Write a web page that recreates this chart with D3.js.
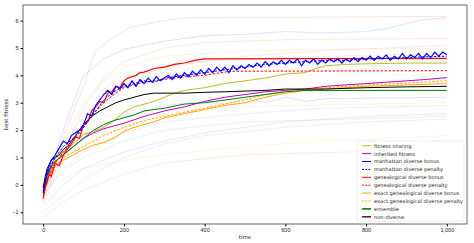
<!DOCTYPE html>
<html>
<head>
<meta charset="utf-8">
<script src="https://cdn.jsdelivr.net/npm/d3@7"></script>
<style>
  body { margin: 0; background: #fff; }
  svg { font-family: "DejaVu Sans", sans-serif; }
</style>
</head>
<body>
<div class="graph"></div>
<script>
// main series: [time, best fitness]
const fitnessSharing = [[0,-0.2],[10,0.4],[25,0.9],[50,1.2],[75,1.5],[100,1.85],[125,1.95],[150,2.1],[175,2.35],[200,2.65],[225,2.85],[250,2.95],[275,3.05],[300,3.2],[325,3.35],[350,3.45],[375,3.5],[400,3.55],[450,3.7],[500,3.8],[550,3.9],[600,4.05],[650,4.1],[675,4.25],[700,4.35],[750,4.4],[800,4.42],[900,4.45],[1000,4.45]];
const inheritedFitness = [[0,-0.2],[10,0.3],[25,0.8],[50,1.1],[75,1.4],[100,1.7],[125,1.9],[150,2.05],[175,2.15],[200,2.25],[250,2.5],[300,2.7],[350,2.85],[400,3.05],[450,3.2],[500,3.3],[550,3.4],[600,3.45],[650,3.5],[700,3.6],[750,3.65],[800,3.7],[850,3.75],[900,3.8],[950,3.85],[1000,3.92]];
const manhattanBonus = [[0,-0.3],[10,0.5],[20,0.9],[30,1.1],[40,1.35],[50,1.6],[60,1.5],[70,1.8],[80,1.9],[90,2.0],[100,2.2],[110,2.6],[120,2.5],[130,2.9],[140,3.1],[150,3.3],[160,3.45],[170,3.3],[180,3.6],[190,3.5],[200,3.7],[210,3.55],[220,3.8],[230,3.6],[240,3.85],[250,3.7],[260,3.9],[270,3.75],[280,3.95],[290,3.8],[300,3.9],[310,4.0],[320,3.85],[330,4.05],[340,3.9],[350,4.1],[360,3.95],[370,4.15],[380,4.0],[390,4.2],[400,4.05],[410,4.25],[420,4.1],[430,4.3],[440,4.15],[450,4.3],[460,4.1],[470,4.35],[480,4.2],[490,4.35],[500,4.25],[510,4.4],[520,4.3],[530,4.45],[540,4.3],[550,4.5],[560,4.35],[570,4.5],[580,4.4],[590,4.55],[600,4.4],[610,4.55],[620,4.45],[630,4.6],[640,4.35],[650,4.55],[660,4.45],[670,4.6],[680,4.4],[690,4.55],[700,4.45],[710,4.6],[720,4.5],[730,4.6],[740,4.45],[750,4.6],[760,4.5],[770,4.65],[780,4.5],[790,4.65],[800,4.55],[810,4.7],[820,4.55],[830,4.7],[840,4.6],[850,4.75],[860,4.55],[870,4.7],[880,4.6],[890,4.8],[900,4.6],[910,4.75],[920,4.65],[930,4.8],[940,4.6],[950,4.8],[960,4.65],[970,4.85],[980,4.7],[990,4.85],[1000,4.75]];
const manhattanPenalty = [[0,-0.2],[15,0.6],[30,1.0],[50,1.4],[75,1.7],[100,2.1],[125,2.6],[150,3.1],[175,3.4],[200,3.6],[225,3.7],[250,3.8],[275,3.75],[300,3.9],[350,4.0],[400,4.1],[450,4.2],[500,4.3],[550,4.4],[600,4.45],[650,4.5],[700,4.55],[750,4.55],[800,4.6],[850,4.62],[900,4.65],[950,4.68],[1000,4.7]];
const genealogicalBonus = [[0,-0.5],[5,-0.1],[10,0.1],[15,0.4],[20,0.3],[30,0.8],[40,0.7],[50,1.1],[60,1.3],[70,1.5],[80,1.75],[90,1.7],[100,2.2],[110,2.3],[120,2.7],[130,2.85],[140,3.05],[150,3.0],[160,3.35],[170,3.4],[180,3.6],[190,3.55],[200,3.8],[210,3.9],[220,3.95],[230,4.0],[240,4.1],[250,4.12],[275,4.25],[300,4.3],[325,4.4],[350,4.45],[375,4.55],[400,4.6],[1000,4.62]];
const genealogicalPenalty = [[0,-0.4],[10,0.2],[25,0.7],[50,1.2],[75,1.6],[100,2.1],[125,2.6],[150,3.0],[175,3.3],[200,3.55],[225,3.65],[250,3.75],[300,3.85],[350,3.95],[400,4.0],[450,4.12],[475,4.15],[1000,4.17]];
const exactBonus = [[0,-0.3],[10,0.2],[25,0.6],[50,0.9],[75,1.1],[100,1.3],[125,1.45],[150,1.55],[175,1.7],[200,1.95],[225,2.1],[250,2.2],[275,2.3],[300,2.45],[350,2.6],[400,2.75],[450,2.9],[500,3.0],[550,3.2],[600,3.35],[650,3.45],[700,3.5],[750,3.55],[800,3.6],[900,3.65],[1000,3.7]];
const exactPenalty = [[0,-0.2],[10,0.3],[25,0.6],[50,1.0],[100,1.4],[150,1.8],[200,2.1],[250,2.35],[300,2.5],[350,2.65],[400,2.8],[450,2.95],[500,3.1],[550,3.3],[600,3.4],[700,3.55],[800,3.65],[900,3.72],[1000,3.8]];
const ensemble = [[0,-0.1],[10,0.4],[25,0.8],[50,1.1],[75,1.4],[100,1.7],[125,2.0],[150,2.2],[175,2.35],[200,2.45],[225,2.55],[250,2.7],[275,2.75],[300,2.8],[350,2.95],[400,3.0],[450,3.1],[500,3.2],[550,3.3],[600,3.4],[650,3.45],[1000,3.45]];
const nonDiverse = [[0,-0.1],[5,0.3],[10,0.6],[20,0.9],[30,1.0],[40,1.1],[50,1.3],[60,1.4],[70,1.6],[80,1.8],[90,2.0],[100,2.2],[120,2.5],[140,2.7],[160,2.85],[180,3.0],[200,3.1],[225,3.2],[250,3.3],[275,3.35],[350,3.35],[400,3.38],[450,3.4],[550,3.45],[600,3.5],[700,3.5],[800,3.55],[900,3.58],[1000,3.6]];

// faint individual runs
const runRedTop = [[0,-0.5],[50,1.8],[100,3.6],[130,4.9],[175,5.4],[215,5.75],[300,6.0],[350,6.1],[1000,6.15]];
const runBlueTop = [[0,-0.3],[50,2.0],[100,4.0],[150,4.6],[200,4.95],[300,5.25],[400,5.45],[500,5.5],[600,5.6],[700,5.55],[800,5.6],[850,5.7],[900,5.9],[950,6.05],[1000,6.1]];
const runRedHigh = [[0,-0.6],[50,1.2],[100,2.8],[150,3.9],[200,4.5],[300,5.0],[400,5.2],[600,5.3],[1000,5.35]];
const runOrangeHigh = [[0,-0.5],[50,1.5],[100,3.0],[150,3.8],[200,4.3],[300,4.7],[500,4.9],[1000,5.0]];
const runGrayHigh = [[0,-0.2],[50,1.3],[100,2.6],[150,3.5],[200,4.0],[300,4.4],[500,4.6],[700,4.7],[1000,4.8]];
const runRedMid = [[0,-0.7],[50,0.9],[100,2.2],[150,3.2],[200,3.8],[300,4.3],[500,4.7],[700,4.9],[1000,5.1]];
const runBlueMid = [[0,-0.2],[50,1.0],[100,1.8],[200,2.5],[300,2.9],[400,3.05],[450,2.95],[500,3.15],[550,3.0],[600,3.2],[650,3.05],[700,3.15],[1000,3.2]];
const runOliveMid = [[0,-0.3],[50,0.8],[100,1.5],[200,2.2],[300,2.6],[400,2.8],[600,2.9],[1000,3.0]];
const runPurpleMid = [[0,-0.4],[50,0.6],[100,1.2],[200,1.9],[300,2.3],[500,2.6],[700,2.8],[1000,2.9]];
const runBlueLow = [[0,-0.8],[50,0.0],[100,0.6],[200,1.2],[300,1.6],[400,1.9],[600,2.3],[800,2.5],[1000,2.6]];
const runGreenLow = [[0,-0.3],[50,0.5],[100,1.0],[200,1.6],[300,2.0],[500,2.3],[1000,2.5]];
const runRedLow = [[0,-1.0],[50,-0.4],[100,0.2],[150,0.6],[200,1.0],[300,1.5],[400,1.8],[600,2.1],[800,2.3],[1000,2.4]];
const runOrangeLow = [[0,-0.6],[50,0.2],[100,0.6],[200,0.9],[300,1.1],[500,1.4],[700,1.6],[1000,1.8]];
const runRedBottom = [[0,-1.2],[50,-0.6],[100,-0.2],[200,0.4],[300,0.8],[500,1.1],[1000,1.3]];

const xTicks = [0, 200, 400, 600, 800, 1000];
const yTicks = [-1, 0, 1, 2, 3, 4, 5, 6];

const legendNames = ['fitness sharing', 'inherited fitness', 'manhattan diverse bonus', 'manhattan diverse penalty',
  'genealogical diverse bonus', 'genealogical diverse penalty', 'exact genealogical diverse bonus',
  'exact genealogical diverse penalty', 'ensemble', 'non-diverse'];

const w = 474;
const h = 243;
const padding = { top: 5, right: 7, bottom: 19, left: 23 };

const xScale = d3.scaleLinear().domain([-50, 1050]).range([padding.left, w - padding.right]);
const yScale = d3.scaleLinear().domain([-1.43, 6.57]).range([h - padding.bottom, padding.top]);

const svg = d3.select('.graph').append('svg').attr('width', w).attr('height', h);

svg.append('clipPath').attr('id', 'clip').append('rect')
  .attr('x', padding.left).attr('y', padding.top)
  .attr('width', w - padding.left - padding.right).attr('height', h - padding.top - padding.bottom);

const line = d3.line().x((d) => xScale(d[0])).y((d) => yScale(d[1]));

const plot = svg.append('g').attr('clip-path', 'url(#clip)');

const faint = [
  [runRedTop, 'rgba(255,0,0,0.12)'], [runBlueTop, 'rgba(0,0,255,0.12)'], [runRedHigh, 'rgba(255,0,0,0.1)'],
  [runOrangeHigh, 'rgba(255,165,0,0.14)'], [runGrayHigh, 'rgba(0,0,0,0.06)'], [runRedMid, 'rgba(255,0,0,0.09)'],
  [runBlueMid, 'rgba(0,0,255,0.12)'], [runOliveMid, 'rgba(188,189,34,0.14)'], [runPurpleMid, 'rgba(191,0,191,0.09)'],
  [runBlueLow, 'rgba(0,0,255,0.09)'], [runGreenLow, 'rgba(0,128,0,0.09)'], [runRedLow, 'rgba(255,0,0,0.09)'],
  [runOrangeLow, 'rgba(255,165,0,0.12)'], [runRedBottom, 'rgba(255,0,0,0.09)']
];
faint.forEach(([data, c]) => {
  plot.append('path').attr('d', line(data)).attr('fill', 'none').attr('stroke', c).attr('stroke-width', 1);
});

const main = [
  [fitnessSharing, '#bcbd22', null, 1],
  [inheritedFitness, '#bf00bf', null, 1],
  [exactBonus, 'orange', null, 1],
  [exactPenalty, 'orange', '2.5,1.5', 1],
  [ensemble, 'green', null, 1],
  [nonDiverse, 'black', null, 1],
  [genealogicalPenalty, 'red', '2.5,1.5', 1],
  [genealogicalBonus, 'red', null, 1.2],
  [manhattanPenalty, 'blue', '2.5,1.5', 1],
  [manhattanBonus, 'blue', null, 1.2]
];
main.forEach(([data, c, dash, sw]) => {
  plot.append('path').attr('d', line(data))
    .attr('fill', 'none').attr('stroke', c).attr('stroke-width', sw)
    .attr('stroke-dasharray', dash);
});

// frame
svg.append('rect')
  .attr('x', padding.left).attr('y', padding.top)
  .attr('width', w - padding.left - padding.right).attr('height', h - padding.top - padding.bottom)
  .attr('fill', 'none').attr('stroke', '#444').attr('stroke-width', 0.8);

svg.append('g')
  .attr('transform', `translate(0, ${h - padding.bottom})`)
  .call(d3.axisBottom(xScale).tickValues(xTicks).tickSize(2.5).tickPadding(2).tickSizeOuter(0))
  .call((g) => g.select('.domain').remove())
  .call((g) => g.selectAll('text').attr('font-size', 5.5).attr('fill', '#222'));

svg.append('g')
  .attr('transform', `translate(${padding.left}, 0)`)
  .call(d3.axisLeft(yScale).tickValues(yTicks).tickFormat((d) => d < 0 ? '\u2212' + Math.abs(d) : d).tickSize(2.5).tickPadding(2).tickSizeOuter(0))
  .call((g) => g.select('.domain').remove())
  .call((g) => g.selectAll('text').attr('font-size', 5.5).attr('fill', '#222'));

svg.append('text').attr('x', (padding.left + w - padding.right) / 2).attr('y', 239)
  .attr('text-anchor', 'middle').attr('font-size', 5.5).attr('fill', '#222').text('time');
svg.append('text').attr('transform', `translate(8, ${(padding.top + h - padding.bottom) / 2}) rotate(-90)`)
  .attr('text-anchor', 'middle').attr('font-size', 5.5).attr('fill', '#222').text('best fitness');

// legend
const legend = svg.append('g').attr('transform', 'translate(357, 141)');
legend.append('rect').attr('width', 107).attr('height', 80).attr('rx', 1.5)
  .attr('fill', 'rgba(255,255,255,0.85)').attr('stroke', '#ddd').attr('stroke-width', 0.6);
const legendStyle = [
  ['#bcbd22', null, 1], ['#bf00bf', null, 1], ['blue', null, 1], ['blue', '2,1.2', 1],
  ['red', null, 1], ['red', '2,1.2', 1], ['orange', null, 1], ['orange', '2,1.2', 1],
  ['green', null, 1.6], ['#333', null, 1.6]
];
legendNames.forEach((name, i) => {
  const y = 4.7 + i * 7.9;
  legend.append('line').attr('x1', 5).attr('x2', 14).attr('y1', y).attr('y2', y)
    .attr('stroke', legendStyle[i][0]).attr('stroke-width', legendStyle[i][2])
    .attr('stroke-dasharray', legendStyle[i][1]);
  legend.append('text').attr('x', 17).attr('y', y + 1.9).attr('font-size', 5.1).attr('fill', '#222').text(name);
});
</script>
</body>
</html>
